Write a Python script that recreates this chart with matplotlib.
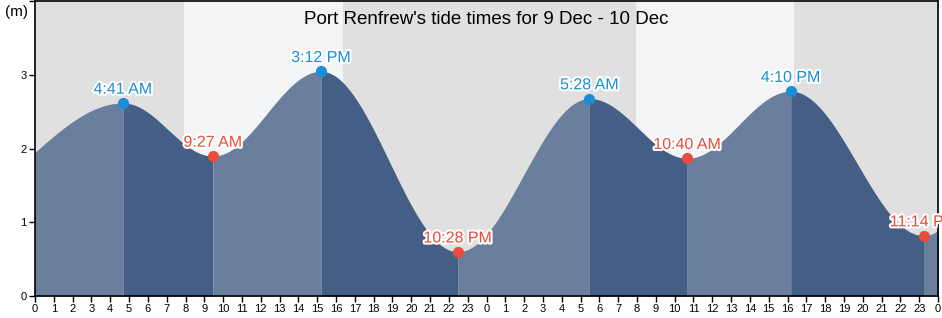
import numpy as np
import matplotlib
matplotlib.use('Agg')
import matplotlib.pyplot as plt
import matplotlib.patheffects as pe

plt.rcParams['font.family'] = ['Liberation Sans', 'DejaVu Sans']

# экстремумы прилива (часы от полуночи 9 Dec), вне окна - оценка
ext_hours = [-4.6, 4.68, 9.45, 15.2, 22.47, 29.47, 34.67, 40.17, 47.23, 53.5]
ext_levels = [1.3, 2.62, 1.90, 3.05, 0.60, 2.68, 1.87, 2.78, 0.82, 2.7]
ext_labels = [None, '4:41 AM', '9:27 AM', '3:12 PM', '10:28 PM',
              '5:28 AM', '10:40 AM', '4:10 PM', '11:14 PM', None]
ext_kind = [None, 'high', 'low', 'high', 'low', 'high', 'low', 'high', 'low', None]

# светлое время суток
day_spans = [(7.93, 16.35), (31.97, 40.37)]

title = "Port Renfrew's tide times for 9 Dec - 10 Dec"

c_night = '#e0e0e0'
c_day = '#f3f4f6'
c_rise = '#6a7f9e'
c_fall = '#455e86'
c_high = '#1a8fd6'
c_low = '#e74c3c'

fig = plt.figure(figsize=(9.42, 3.18), dpi=100)
ax = fig.add_axes([35 / 942, 1 - 296 / 318, 903 / 942, 294.7 / 318])
ax.set_facecolor(c_night)
for a, b in day_spans:
    ax.axvspan(a, b, color=c_day, lw=0, zorder=0)

# косинусная интерполяция между экстремумами
for i in range(len(ext_hours) - 1):
    t0, t1 = ext_hours[i], ext_hours[i + 1]
    h0, h1 = ext_levels[i], ext_levels[i + 1]
    t = np.linspace(t0, t1, 200)
    f = (t - t0) / (t1 - t0)
    h = h0 + (h1 - h0) * (1 - np.cos(np.pi * f)) / 2
    col = c_rise if h1 > h0 else c_fall
    ax.fill_between(t, 0, h, color=col, lw=0, zorder=1)

stroke = [pe.withStroke(linewidth=3, foreground='white')]
for t, h, lab, k in zip(ext_hours, ext_levels, ext_labels, ext_kind):
    if lab is None:
        continue
    col = c_high if k == 'high' else c_low
    ax.plot(t, h, 'o', color=col, ms=7, zorder=3, clip_on=False)
    txt = ax.annotate(lab, (t, h), xytext=(0, 4.5), textcoords='offset points',
                      ha='center', va='bottom', color=col, fontsize=11.5,
                      zorder=4, annotation_clip=False)
    txt.set_path_effects(stroke)
    txt.set_clip_on(True)

ax.set_xlim(0, 48)
ax.set_ylim(0, 4)
ax.set_xticks(range(0, 49))
ax.set_xticklabels([str(h % 24) for h in range(0, 49)], fontsize=8)
ax.set_yticks([0, 1, 2, 3, 4])
ax.set_yticklabels(['0', '1', '2', '3', ''], fontsize=8)
ax.tick_params(length=4, width=1, color='black', pad=2)
for s in ax.spines.values():
    s.set_linewidth(1.2)
    s.set_color('black')

fig.text(5 / 942, 1 - 12 / 318, '(m)', fontsize=11, va='center', ha='left')
ax.text(24, 3.75, title, ha='center', va='center', fontsize=13.5,
        color='black', zorder=5)

fig.savefig('out.png', dpi=100)
